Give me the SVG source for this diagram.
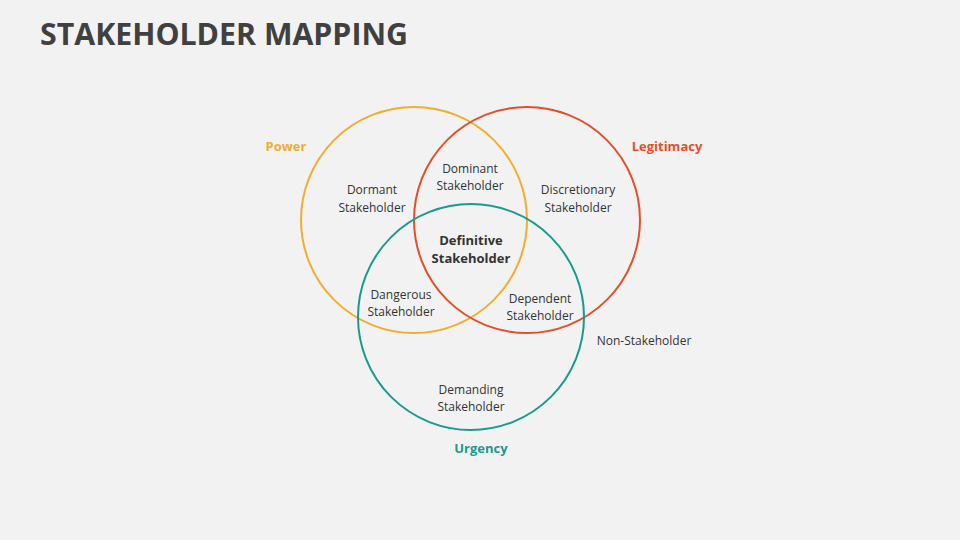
<svg xmlns="http://www.w3.org/2000/svg" width="960" height="540" viewBox="0 0 960 540">
<style>
.c{fill:none;stroke-width:2}
.t{font-family:"Open Sans","Liberation Sans",sans-serif;font-size:12px;fill:#333;text-anchor:middle}
.b{font-family:"Open Sans","Liberation Sans",sans-serif;font-size:13px;font-weight:bold;text-anchor:middle}
</style>
<rect width="960" height="540" fill="#f2f2f2"/>
<text x="40" y="45" font-family="Open Sans,Liberation Sans,sans-serif" font-size="30" font-weight="bold" fill="#404040" textLength="368" lengthAdjust="spacingAndGlyphs">STAKEHOLDER MAPPING</text>
<g id="power"><circle class="c" cx="414" cy="220" r="113" stroke="#F0AE30"/><text class="b" x="286" y="151" fill="#F0AE30">Power</text></g>
<g id="legitimacy"><circle class="c" cx="527" cy="220" r="113" stroke="#E0502A"/><text class="b" x="667" y="151" fill="#E0502A">Legitimacy</text></g>
<g id="urgency"><circle class="c" cx="471" cy="317" r="113" stroke="#1A9A8F"/><text class="b" x="481" y="453" fill="#1A9A8F">Urgency</text></g>
<g id="dormant"><text class="t" x="372" y="194">Dormant</text><text class="t" x="372" y="212">Stakeholder</text></g>
<g id="dominant"><text class="t" x="470" y="173">Dominant</text><text class="t" x="470" y="190">Stakeholder</text></g>
<g id="discretionary"><text class="t" x="578" y="194">Discretionary</text><text class="t" x="578" y="212">Stakeholder</text></g>
<g id="definitive"><text class="b" x="471" y="245" fill="#333">Definitive</text><text class="b" x="471" y="263" fill="#333">Stakeholder</text></g>
<g id="dangerous"><text class="t" x="401" y="299">Dangerous</text><text class="t" x="401" y="316">Stakeholder</text></g>
<g id="dependent"><text class="t" x="540" y="303">Dependent</text><text class="t" x="540" y="320">Stakeholder</text></g>
<g id="demanding"><text class="t" x="471" y="394">Demanding</text><text class="t" x="471" y="411">Stakeholder</text></g>
<g id="non"><text class="t" x="644" y="345">Non-Stakeholder</text></g>
<g id="connectors"></g>
</svg>
